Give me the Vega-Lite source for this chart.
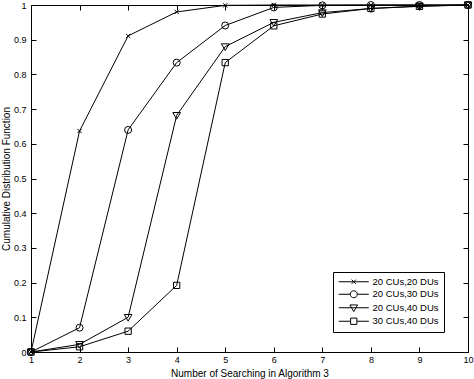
{
  "$schema": "https://vega.github.io/schema/vega-lite/v6.json",
  "width": 437,
  "height": 347,
  "autosize": {"type": "none"},
  "padding": {"left": 31, "top": 5, "right": 6, "bottom": 27},
  "config": {
    "view": {"stroke": "black", "strokeWidth": 1},
    "font": "Liberation Sans",
    "axis": {
      "grid": false,
      "domain": false,
      "tickColor": "black",
      "tickSize": -5,
      "tickWidth": 1,
      "labelColor": "black",
      "labelFont": "Liberation Sans",
      "labelFontSize": 9,
      "titleFont": "Liberation Sans",
      "titleFontSize": 10,
      "titleFontWeight": "normal",
      "titleColor": "black"
    }
  },
  "data": {
    "values": [
      {"n": 1, "cdf": 0, "series": "20 CUs,20 DUs"},
      {"n": 2, "cdf": 0.637, "series": "20 CUs,20 DUs"},
      {"n": 3, "cdf": 0.911, "series": "20 CUs,20 DUs"},
      {"n": 4, "cdf": 0.98, "series": "20 CUs,20 DUs"},
      {"n": 5, "cdf": 0.999, "series": "20 CUs,20 DUs"},
      {"n": 6, "cdf": 1, "series": "20 CUs,20 DUs"},
      {"n": 7, "cdf": 1, "series": "20 CUs,20 DUs"},
      {"n": 8, "cdf": 1, "series": "20 CUs,20 DUs"},
      {"n": 9, "cdf": 1, "series": "20 CUs,20 DUs"},
      {"n": 10, "cdf": 1, "series": "20 CUs,20 DUs"},
      {"n": 1, "cdf": 0, "series": "20 CUs,30 DUs"},
      {"n": 2, "cdf": 0.07, "series": "20 CUs,30 DUs"},
      {"n": 3, "cdf": 0.64, "series": "20 CUs,30 DUs"},
      {"n": 4, "cdf": 0.834, "series": "20 CUs,30 DUs"},
      {"n": 5, "cdf": 0.941, "series": "20 CUs,30 DUs"},
      {"n": 6, "cdf": 0.993, "series": "20 CUs,30 DUs"},
      {"n": 7, "cdf": 0.999, "series": "20 CUs,30 DUs"},
      {"n": 8, "cdf": 1, "series": "20 CUs,30 DUs"},
      {"n": 9, "cdf": 1, "series": "20 CUs,30 DUs"},
      {"n": 10, "cdf": 1, "series": "20 CUs,30 DUs"},
      {"n": 1, "cdf": 0, "series": "20 CUs,40 DUs"},
      {"n": 2, "cdf": 0.022, "series": "20 CUs,40 DUs"},
      {"n": 3, "cdf": 0.1, "series": "20 CUs,40 DUs"},
      {"n": 4, "cdf": 0.682, "series": "20 CUs,40 DUs"},
      {"n": 5, "cdf": 0.88, "series": "20 CUs,40 DUs"},
      {"n": 6, "cdf": 0.95, "series": "20 CUs,40 DUs"},
      {"n": 7, "cdf": 0.978, "series": "20 CUs,40 DUs"},
      {"n": 8, "cdf": 0.99, "series": "20 CUs,40 DUs"},
      {"n": 9, "cdf": 0.997, "series": "20 CUs,40 DUs"},
      {"n": 10, "cdf": 1, "series": "20 CUs,40 DUs"},
      {"n": 1, "cdf": 0, "series": "30 CUs,40 DUs"},
      {"n": 2, "cdf": 0.015, "series": "30 CUs,40 DUs"},
      {"n": 3, "cdf": 0.06, "series": "30 CUs,40 DUs"},
      {"n": 4, "cdf": 0.192, "series": "30 CUs,40 DUs"},
      {"n": 5, "cdf": 0.834, "series": "30 CUs,40 DUs"},
      {"n": 6, "cdf": 0.94, "series": "30 CUs,40 DUs"},
      {"n": 7, "cdf": 0.974, "series": "30 CUs,40 DUs"},
      {"n": 8, "cdf": 0.99, "series": "30 CUs,40 DUs"},
      {"n": 9, "cdf": 0.996, "series": "30 CUs,40 DUs"},
      {"n": 10, "cdf": 1, "series": "30 CUs,40 DUs"}
    ]
  },
  "layer": [
    {
      "mark": {"type": "line", "color": "black", "strokeWidth": 1},
      "encoding": {
        "x": {
          "field": "n", "type": "quantitative",
          "scale": {"domain": [1, 10], "nice": false, "zero": false},
          "axis": {"orient": "bottom", "values": [1,2,3,4,5,6,7,8,9,10], "title": "Number of Searching in Algorithm 3", "labelFlush": false, "labelOverlap": false, "labelPadding": 8, "titlePadding": 4.5}
        },
        "y": {
          "field": "cdf", "type": "quantitative",
          "scale": {"domain": [0, 1], "nice": false},
          "axis": {"orient": "left", "values": [0,0.1,0.2,0.3,0.4,0.5,0.6,0.7,0.8,0.9,1], "format": "~g", "title": "Cumulative Distribution Function", "labelFlush": false, "labelOverlap": false, "labelPadding": 10, "titlePadding": 2}
        },
        "detail": {"field": "series"}
      }
    },
    {
      "mark": {"type": "point", "filled": false, "color": "black", "strokeWidth": 1, "size": 49, "opacity": 1},
      "encoding": {
        "x": {
          "field": "n", "type": "quantitative",
          "scale": {"domain": [1, 10], "nice": false, "zero": false},
          "axis": {"orient": "top", "values": [1,2,3,4,5,6,7,8,9,10], "labels": false, "title": null}
        },
        "y": {
          "field": "cdf", "type": "quantitative",
          "scale": {"domain": [0, 1], "nice": false},
          "axis": {"orient": "right", "values": [0,0.1,0.2,0.3,0.4,0.5,0.6,0.7,0.8,0.9,1], "labels": false, "title": null}
        },
        "shape": {
          "field": "series", "type": "nominal",
          "scale": {
            "domain": ["20 CUs,20 DUs", "20 CUs,30 DUs", "20 CUs,40 DUs", "30 CUs,40 DUs"],
            "range": ["M-0.6,-0.6L0.6,0.6M-0.6,0.6L0.6,-0.6", "circle", "M-1.1,-0.8L1.1,-0.8L0,1.1Z", "M-0.9,-0.9H0.9V0.9H-0.9Z"]
          },
          "legend": null
        }
      }
    },
    {
      "mark": {"type": "point", "filled": false, "color": "black", "strokeWidth": 1, "size": 49, "opacity": 0},
      "encoding": {
        "x": {"field": "n", "type": "quantitative", "axis": null},
        "y": {"field": "cdf", "type": "quantitative", "axis": null},
        "shape": {
          "field": "series", "type": "nominal",
          "scale": {
            "domain": ["20 CUs,20 DUs", "20 CUs,30 DUs", "20 CUs,40 DUs", "30 CUs,40 DUs"],
            "range": ["M-4.3,0L4.3,0M-0.6,-0.6L0.6,0.6M-0.6,0.6L0.6,-0.6", "M-4.3,0L-1,0M1,0L4.3,0M-1,0A1,1,0,1,1,1,0A1,1,0,1,1,-1,0", "M-4.3,0L4.3,0M-1.1,-0.8L1.1,-0.8L0,1.1Z", "M-4.3,0L-0.9,0M0.9,0L4.3,0M-0.9,-0.9H0.9V0.9H-0.9Z"]
          },
          "legend": {
            "title": null,
            "orient": "none",
            "legendX": 302,
            "legendY": 267,
            "strokeColor": "black",
            "fillColor": "white",
            "padding": 5,
            "symbolSize": 49,
            "symbolOffset": 11,
            "symbolOpacity": 1,
            "symbolStrokeWidth": 1,
            "symbolStrokeColor": "black",
            "symbolFillColor": "transparent",
            "labelOffset": 14,
            "rowPadding": 1.5,
            "labelFont": "Liberation Sans",
            "labelFontSize": 9.5,
            "labelColor": "black"
          }
        }
      }
    }
  ],
  "resolve": {"scale": {"shape": "independent"}, "axis": {"x": "independent", "y": "independent"}}
}
